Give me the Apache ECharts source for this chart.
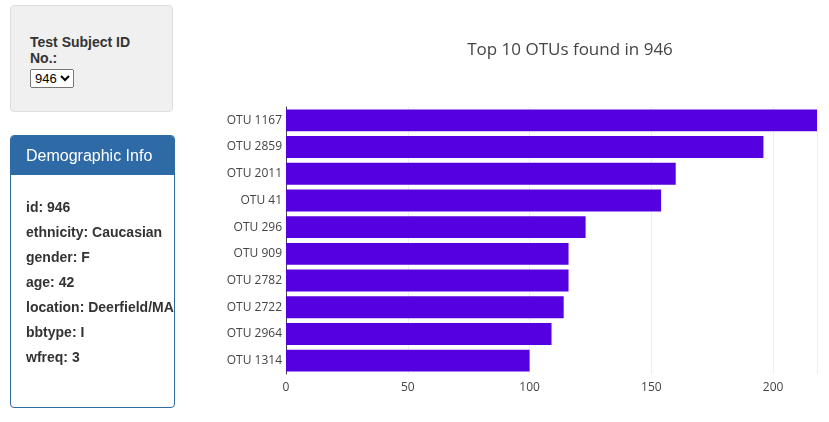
<!DOCTYPE html>
<html><head><meta charset="utf-8">
<script src="https://cdn.jsdelivr.net/npm/echarts@6/dist/echarts.min.js"></script>
<style>
body{margin:0;width:829px;height:422px;position:relative;font-family:"Helvetica Neue",Arial,"Liberation Sans",sans-serif;background:#fff;overflow:hidden}
#chart{position:absolute;left:0;top:0;width:829px;height:422px}
.well{position:absolute;left:10px;top:5px;width:163px;height:107px;background:#f0f0f0;border:1px solid #ddd;border-radius:4px;box-sizing:border-box;padding:28px 0 0 19px;font-weight:bold;font-size:14px;color:#333;line-height:16px}
.well select{margin-top:3px;font-size:13px}
.panel{position:absolute;left:10px;top:135px;width:165px;height:273px;border:1px solid #2e6da4;border-radius:4px;box-sizing:border-box;overflow:hidden}
.panel .h{background:#2e6aa5;color:#fff;font-size:16px;height:39px;line-height:39px;padding-left:15px}
.panel .b{padding:24px 0 0 15px;font-size:14px;font-weight:bold;color:#333}
.panel .b div{margin-bottom:9px;line-height:16px}
</style></head><body>
<div id="chart"></div>
<div class="well">Test Subject ID<br>No.:<br><select><option>946</option></select></div>
<div class="panel"><div class="h">Demographic Info</div><div class="b" id="info"></div></div>
<script>
const categories=["OTU 1167","OTU 2859","OTU 2011","OTU 41","OTU 296","OTU 909","OTU 2782","OTU 2722","OTU 2964","OTU 1314"];
const values=[218,196,160,154,123,116,116,114,109,100];
const xTicks=[0,50,100,150,200];
const demo=["id: 946","ethnicity: Caucasian","gender: F","age: 42","location: Deerfield/MA","bbtype: I","wfreq: 3"];
document.getElementById('info').innerHTML=demo.map(d=>'<div>'+d+'</div>').join('');
const c=echarts.init(document.getElementById('chart'));
c.setOption({
 animation:false,
 title:{text:'Top 10 OTUs found in 946',left:565,top:37,textAlign:'center',textStyle:{fontSize:17,fontWeight:'normal',color:'#444',fontFamily:'Open Sans, sans-serif'}},
 grid:{left:286,right:12,top:107,bottom:48},
 xAxis:{type:'value',min:0,max:218,interval:50,axisLine:{show:false},axisTick:{show:false},
  splitLine:{lineStyle:{color:'#eee'}},axisLabel:{color:'#444',fontSize:12,margin:8,showMaxLabel:false,fontFamily:'Open Sans, sans-serif'}},
 yAxis:{type:'category',inverse:true,data:categories,axisLine:{lineStyle:{color:'#444'}},axisTick:{show:false},
  axisLabel:{color:'#444',fontSize:12,margin:4,fontFamily:'Open Sans, sans-serif'}},
 series:[{type:'bar',data:values,barCategoryGap:'18%',itemStyle:{color:'#5500e0'}}]
});
</script></body></html>
